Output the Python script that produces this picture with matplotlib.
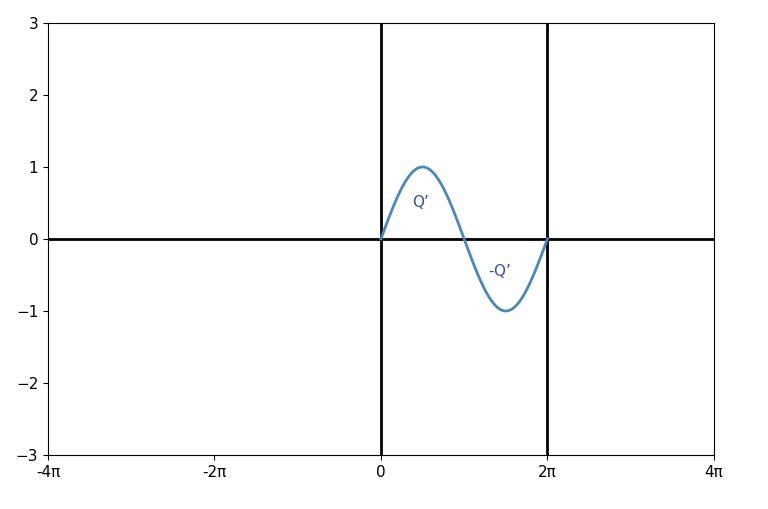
import numpy as np
from matplotlib import pyplot as plt

# data
x = np.linspace(0, 2 * np.pi, 200)
y = np.sin(x)

xticks = [-4 * np.pi, -2 * np.pi, 0, 2 * np.pi, 4 * np.pi]
xticklabels = ['-4π', '-2π', '0', '2π', '4π']
yticks = [-3, -2, -1, 0, 1, 2, 3]

labels = ['Q’', '-Q’']
label_x = [1.5, 4.5]
label_y = [0.5, -0.45]

fig = plt.figure(figsize=(7.68, 5.09), dpi=100)
ax = fig.add_axes([0.0625, 0.106, 0.867, 0.849])

ax.axhline(0, color='black', lw=2)
ax.axvline(0, color='black', lw=2)
ax.axvline(2 * np.pi, color='black', lw=2)

ax.plot(x, y, color='#4a86c0', lw=2)

for t, tx, ty in zip(labels, label_x, label_y):
    ax.text(tx, ty, t, color='#3a52ad', fontsize=11, ha='center', va='center')

ax.set_xlim(-4 * np.pi, 4 * np.pi)
ax.set_ylim(-3, 3)
ax.set_xticks(xticks)
ax.set_xticklabels(xticklabels)
ax.set_yticks(yticks)
ax.tick_params(labelsize=11)

plt.savefig('out.png')
